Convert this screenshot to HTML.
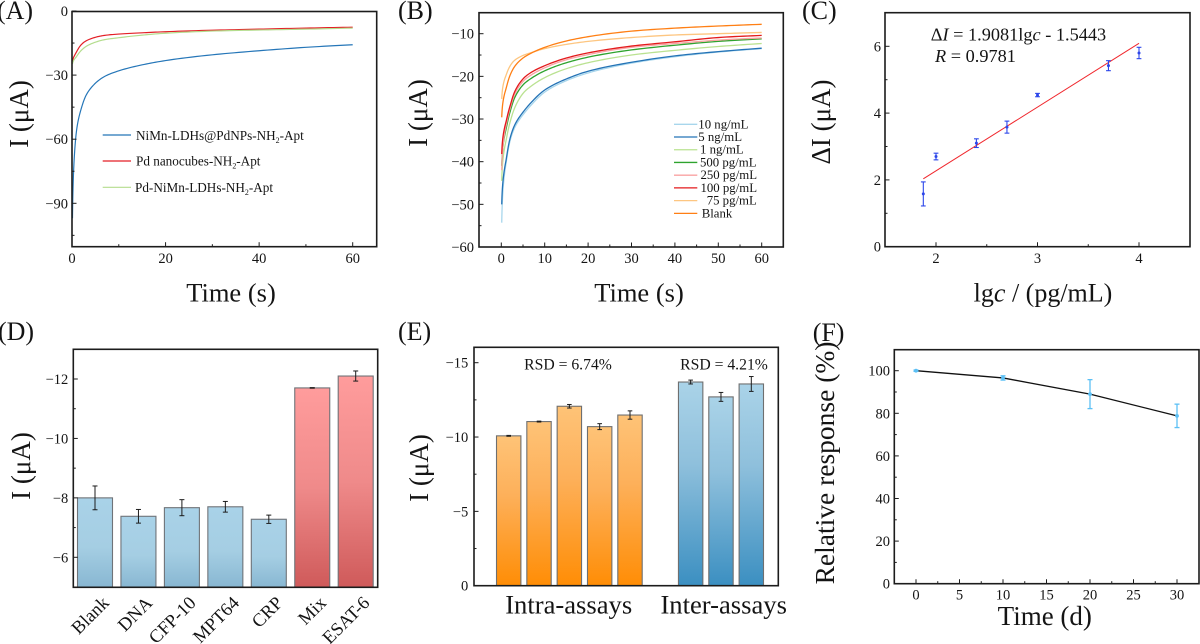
<!DOCTYPE html>
<html lang="en">
<head>
<meta charset="utf-8">
<title>Electrochemical aptasensor results</title>
<style>
  html, body { margin: 0; padding: 0; background: #fff; width: 1200px; height: 644px; overflow: hidden; }
  svg { display: block; filter: blur(0.35px); }
  text { font-family: "Liberation Serif", "DejaVu Serif", serif; fill: #141414; }
</style>
</head>
<body>
<svg id="figure" xmlns="http://www.w3.org/2000/svg" width="1200" height="644" viewBox="0 0 1200 644">
  <defs>
    <linearGradient id="grad-blue-d" x1="0" y1="0" x2="0" y2="1"><stop offset="0" stop-color="#a9d2e8"/><stop offset="0.55" stop-color="#a5cee3"/><stop offset="1" stop-color="#88b7d2"/></linearGradient>
    <linearGradient id="grad-red-d" x1="0" y1="0" x2="0" y2="1"><stop offset="0" stop-color="#ff9c9c"/><stop offset="0.5" stop-color="#ef8a8a"/><stop offset="1" stop-color="#cf5a5a"/></linearGradient>
    <linearGradient id="grad-orange-e" x1="0" y1="0" x2="0" y2="1"><stop offset="0" stop-color="#fec377"/><stop offset="0.4" stop-color="#fdb05a"/><stop offset="1" stop-color="#ff8d05"/></linearGradient>
    <linearGradient id="grad-blue-e" x1="0" y1="0" x2="0" y2="1"><stop offset="0" stop-color="#aad3e8"/><stop offset="0.4" stop-color="#8fc0dc"/><stop offset="1" stop-color="#3b8fc1"/></linearGradient>
  </defs>
</svg>
<script>
// ---------- Panel A data ----------
const timesA = [0.1, 0.5, 1, 2, 3, 5, 7, 10, 15, 20, 30, 40, 50, 60];
const seriesANames = ["NiMn-LDHs@PdNPs-NH2-Apt", "Pd nanocubes-NH2-Apt", "Pd-NiMn-LDHs-NH2-Apt"];
const seriesANiMn = [-97, -68, -55.5, -45.5, -39.5, -33.8, -30.6, -28, -25.2, -23.2, -20.5, -18.6, -17, -15.8];
const seriesAPd = [-23.7, -21, -19, -15.7, -14, -12.3, -11.4, -10.8, -10.2, -9.7, -9, -8.5, -8, -7.6];
const seriesAPdNiMn = [-24.8, -22.6, -21.2, -18.4, -16.6, -14.6, -13.4, -12.5, -11.3, -10.4, -9.4, -8.9, -8.5, -8];
const ticksAX = [0, 20, 40, 60];
const minorAX = [10, 30, 50];
const ticksAY = [0, -30, -60, -90];
const minorAY = [-15, -45, -75, -105];

// ---------- Panel B data ----------
const timesB = [0.1, 1, 2, 3, 5, 7, 10, 15, 20, 30, 40, 50, 60];
const legendB = ["10 ng/mL", "5 ng/mL", "1 ng/mL", "500 pg/mL", "250 pg/mL", "100 pg/mL", "75 pg/mL", "Blank"];
const seriesB10ng = [-54.3, -41, -35.2, -32.2, -29, -26.6, -23.7, -21, -19.2, -16.9, -15.4, -14.3, -13.5];
const seriesB5ng = [-50, -40.2, -34.6, -31.6, -28.4, -26, -23.2, -20.6, -18.8, -16.7, -15.2, -14.2, -13.4];
const seriesB1ng = [-44.5, -35.5, -30.8, -27.6, -24, -22.2, -20.3, -18.2, -16.8, -15, -13.9, -13, -12.3];
const seriesB500pg = [-41, -32.8, -28.4, -25.2, -22, -20.4, -18.7, -16.8, -15.5, -13.8, -12.7, -11.8, -11.2];
const seriesB250pg = [-42, -32, -27.6, -24.4, -21.2, -19.6, -18, -16.1, -14.9, -13.2, -12.3, -11.5, -11];
const seriesB100pg = [-38.2, -31, -27, -23.8, -20.6, -19, -17.5, -15.7, -14.5, -12.9, -11.9, -10.9, -10.4];
const seriesB75pg = [-25.3, -20, -17.6, -16.3, -15.1, -14.4, -13.5, -12.5, -11.8, -10.9, -10.3, -10, -9.7];
const seriesBBlank = [-29.6, -23.2, -19.8, -17.8, -15.7, -14.5, -13.2, -11.7, -10.7, -9.4, -8.7, -8.2, -7.8];
const ticksBX = [0, 10, 20, 30, 40, 50, 60];
const minorBX = [5, 15, 25, 35, 45, 55];
const ticksBY = [-10, -20, -30, -40, -50, -60];
const minorBY = [-15, -25, -35, -45, -55];

// ---------- Panel C data ----------
const lgcC = [1.875, 2, 2.398, 2.699, 3, 3.699, 4];
const deltaIC = [1.58, 2.7, 3.1, 3.58, 4.54, 5.42, 5.8];
const errorC = [0.36, 0.1, 0.13, 0.18, 0.05, 0.15, 0.17];
const fitC = [1.9081, -1.5443];
const ticksCX = [2, 3, 4];
const minorCX = [2.5, 3.5];
const ticksCY = [0, 2, 4, 6];
const minorCY = [1, 3, 5];

// ---------- Panel D data ----------
const categoriesD = ["Blank", "DNA", "CFP-10", "MPT64", "CRP", "Mix", "ESAT-6"];
const valuesD = [-8.0, -7.38, -7.67, -7.7, -7.28, -11.7, -12.1];
const errorD = [0.4, 0.23, 0.27, 0.18, 0.14, 0.01, 0.17];
const ticksDY = [-6, -8, -10, -12];
const minorDY = [-7, -9, -11];

// ---------- Panel E data ----------
const intraValuesE = [-10.08, -11.04, -12.07, -10.7, -11.48];
const intraErrorE = [0.03, 0.03, 0.12, 0.2, 0.28];
const interValuesE = [-13.7, -12.7, -13.57];
const interErrorE = [0.13, 0.3, 0.5];
const ticksEY = [0, -5, -10, -15];
const minorEY = [-2.5, -7.5, -12.5];

// ---------- Panel F data ----------
const daysF = [0, 10, 20, 30];
const responseF = [100, 96.6, 89, 78.8];
const errorF = [0.3, 1, 6.8, 5.5];
const ticksFX = [0, 5, 10, 15, 20, 25, 30];
const minorFX = [2.5, 7.5, 12.5, 17.5, 22.5, 27.5];
const ticksFY = [0, 20, 40, 60, 80, 100];
const minorFY = [10, 30, 50, 70, 90];

// ---------- Helpers ----------
const NS = "http://www.w3.org/2000/svg";
const root = document.getElementById("figure");

function node(tag, name, attrs, parent) {
  const el = document.createElementNS(NS, tag);
  
  
  for (const k in attrs) el.setAttribute(k, attrs[k]);
  (parent || root).appendChild(el);
  return el;
}
function label(name, str, x, y, size, anchor, parent, extra) {
  const el = node("text", name, Object.assign({ x: x, y: y, "font-size": size, "text-anchor": anchor || "middle" }, extra || {}), parent);
  el.textContent = str;
  return el;
}
function linear(d0, d1, r0, r1) {
  return function (v) { return r0 + (v - d0) * (r1 - r0) / (d1 - d0); };
}
function fmt(v) { return v < 0 ? "\u2212" + Math.abs(v) : String(v); }

// Smooth stroke: Hermite spline through the data in log-time, so the steep start stays round
function logTimePath(xs, ys, sx, sy) {
  const u = xs.map(function (t) { return Math.log(t); });
  const n = u.length, m = [];
  for (let i = 0; i < n; i++) {
    const a = Math.max(i - 1, 0), b = Math.min(i + 1, n - 1);
    m[i] = (ys[b] - ys[a]) / (u[b] - u[a]);
  }
  let d = "M" + sx(xs[0]).toFixed(2) + " " + sy(ys[0]).toFixed(2);
  for (let i = 0; i < n - 1; i++) {
    const h = u[i + 1] - u[i];
    for (let k = 1; k <= 10; k++) {
      const s = k / 10, s2 = s * s, s3 = s2 * s;
      const v = (2 * s3 - 3 * s2 + 1) * ys[i] + (s3 - 2 * s2 + s) * h * m[i] +
        (-2 * s3 + 3 * s2) * ys[i + 1] + (s3 - s2) * h * m[i + 1];
      d += "L" + sx(Math.exp(u[i] + s * h)).toFixed(2) + " " + sy(v).toFixed(2);
    }
  }
  return d;
}

function axes(g, box, sx, sy, o) {
  const axisColor = "#1c1c1c";
  (o.xTicks || []).forEach(function (v) {
    node("line", "x-major-tick", { x1: sx(v), x2: sx(v), y1: box.b, y2: box.b - 4.5, stroke: axisColor, "stroke-width": 1 }, g);
    label("x-tick-label", fmt(v), sx(v), o.xLabelY, 14.5, "middle", g);
  });
  (o.xMinor || []).forEach(function (v) {
    node("line", "x-minor-tick", { x1: sx(v), x2: sx(v), y1: box.b, y2: box.b - 2.5, stroke: axisColor, "stroke-width": 1 }, g);
  });
  (o.yTicks || []).forEach(function (v) {
    node("line", "y-major-tick", { x1: box.l, x2: box.l + 4.5, y1: sy(v), y2: sy(v), stroke: axisColor, "stroke-width": 1 }, g);
    label("y-tick-label", fmt(v), o.yLabelX, sy(v) + 5, 14.5, "end", g);
  });
  (o.yMinor || []).forEach(function (v) {
    node("line", "y-minor-tick", { x1: box.l, x2: box.l + 2.5, y1: sy(v), y2: sy(v), stroke: axisColor, "stroke-width": 1 }, g);
  });
}
function frame(g, box) {
  node("rect", "plot-frame", { x: box.l, y: box.t, width: box.r - box.l, height: box.b - box.t, fill: "none", stroke: "#1c1c1c", "stroke-width": 1.6 }, g);
}
function yTitle(g, str, x, cy, size) {
  return label("y-axis-title", str, 0, 0, size || 27, "middle", g, { transform: "translate(" + x + " " + cy + ") rotate(-90)" });
}
function curve(g, name, xs, ys, sx, sy, color, w) {
  node("path", name, { d: logTimePath(xs, ys, sx, sy), fill: "none", stroke: color, "stroke-width": w || 1.3, "stroke-linejoin": "round" }, g);
}
function errorBar(g, name, x, yTop, yBottom, cap, color, w) {
  node("line", name + "-stem", { x1: x, x2: x, y1: yTop, y2: yBottom, stroke: color, "stroke-width": w }, g);
  node("line", name + "-cap-top", { x1: x - cap, x2: x + cap, y1: yTop, y2: yTop, stroke: color, "stroke-width": w }, g);
  node("line", name + "-cap-bottom", { x1: x - cap, x2: x + cap, y1: yBottom, y2: yBottom, stroke: color, "stroke-width": w }, g);
}
function subscriptLabel(g, name, str, x, y, size) {
  const el = node("text", name, { x: x, y: y, "font-size": size }, g);
  const idx = str.indexOf("NH2");
  const a = document.createElementNS(NS, "tspan");
  a.textContent = str.slice(0, idx + 2);
  const b = document.createElementNS(NS, "tspan");
  b.setAttribute("font-size", size * 0.6);
  b.setAttribute("dy", 3);
  b.textContent = "2";
  const c = document.createElementNS(NS, "tspan");
  c.setAttribute("dy", -3);
  c.textContent = str.slice(idx + 3);
  el.appendChild(a); el.appendChild(b); el.appendChild(c);
  return el;
}

// ---------- Panel A ----------
(function () {
  const g = node("g", "panel-a", {});
  const box = { l: 72, r: 376.7, t: 11.5, b: 246.7 };
  const sx = linear(0, 60, 72, 352.7);
  const sy = linear(0, -90, 11, 203.3);
  label("panel-label-a", "(A)", -3, 19, 26, "start", g);
  const colors = ["#2576b8", "#e31f26", "#b4dd8e"];
  [seriesANiMn, seriesAPd, seriesAPdNiMn].forEach(function (s, i) {
    curve(g, "curve-" + ["nimn-ldhs-pdnps", "pd-nanocubes", "pd-nimn-ldhs"][i], timesA, s, sx, sy, colors[i], 1.2);
  });
  axes(g, box, sx, sy, { xTicks: ticksAX, xMinor: minorAX, yTicks: ticksAY, yMinor: minorAY, xLabelY: 263, yLabelX: 68 });
  frame(g, box);
  yTitle(g, "I (\u03bcA)", 28, 114);
  label("x-axis-title", "Time (s)", 231, 301.7, 26.5, "middle", g);
  const ly = [135, 161, 187.3];
  const lt = [140, 165.5, 192];
  const lx = [136, 136, 135];
  seriesANames.forEach(function (n, i) {
    node("line", "legend-swatch", { x1: 102.7, x2: 131, y1: ly[i], y2: ly[i], stroke: colors[i], "stroke-width": 1.2 }, g);
    subscriptLabel(g, "legend-entry", n, lx[i], lt[i], 13.2);
  });
})();

// ---------- Panel B ----------
(function () {
  const g = node("g", "panel-b", {});
  const box = { l: 479, r: 783.3, t: 12.7, b: 247 };
  const sx = linear(0, 60, 501.3, 761.7);
  const sy = linear(-10, -60, 33.7, 247);
  label("panel-label-b", "(B)", 398, 19, 26, "start", g);
  const colors = ["#a8d6ec", "#2473b6", "#bae291", "#2ea32e", "#f9a3a3", "#e31a1c", "#fdc681", "#ff7f14"];
  [seriesB10ng, seriesB5ng, seriesB1ng, seriesB500pg, seriesB250pg, seriesB100pg, seriesB75pg, seriesBBlank].forEach(function (s, i) {
    curve(g, "curve-" + legendB[i].toLowerCase().replace(/[ \/]/g, "-"), timesB, s, sx, sy, colors[i], 1.3);
  });
  axes(g, box, sx, sy, { xTicks: ticksBX, xMinor: minorBX, yTicks: ticksBY, yMinor: minorBY, xLabelY: 263, yLabelX: 474 });
  frame(g, box);
  yTitle(g, "I (\u03bcA)", 427, 113);
  label("x-axis-title", "Time (s)", 639, 301.7, 26.5, "middle", g);
  const lx = [698.3, 698.3, 700, 700, 700.5, 700.5, 706.7, 701.7];
  legendB.forEach(function (n, i) {
    const y = 124.3 + i * 12.72;
    node("line", "legend-swatch", { x1: 674, x2: 697.3, y1: y, y2: y, stroke: colors[i], "stroke-width": 1.3 }, g);
    label("legend-entry", n, lx[i], y + 4, 12.8, "start", g);
  });
})();

// ---------- Panel C ----------
(function () {
  const g = node("g", "panel-c", {});
  const box = { l: 885, r: 1190, t: 12.7, b: 246.7 };
  const sx = linear(2, 4, 936, 1139);
  const sy = linear(0, 6, 246.7, 46.3);
  label("panel-label-c", "(C)", 802, 19, 26, "start", g);
  const xa = lgcC[0], xb = lgcC[lgcC.length - 1];
  node("line", "fit-line", { x1: sx(xa), y1: sy(fitC[0] * xa + fitC[1]), x2: sx(xb), y2: sy(fitC[0] * xb + fitC[1]), stroke: "#f0262c", "stroke-width": 1 }, g);
  lgcC.forEach(function (v, i) {
    errorBar(g, "error-bar", sx(v), sy(deltaIC[i] + errorC[i]), sy(deltaIC[i] - errorC[i]), 2.4, "#2c46ea", 1.1);
    node("circle", "data-point", { cx: sx(v), cy: sy(deltaIC[i]), r: 1.5, fill: "#2c46ea" }, g);
  });
  axes(g, box, sx, sy, { xTicks: ticksCX, xMinor: minorCX, yTicks: ticksCY, yMinor: minorCY, xLabelY: 263, yLabelX: 881 });
  frame(g, box);
  yTitle(g, "\u0394I (\u03bcA)", 830, 122);
  const xt = label("x-axis-title", "", 1043, 301.7, 26, "middle", g);
  xt.innerHTML = 'lg<tspan font-style="italic">c</tspan> / (pg/mL)';
  const eq = label("fit-equation", "", 930.7, 40.7, 18.3, "start", g);
  eq.innerHTML = '\u0394<tspan font-style="italic">I</tspan> = 1.9081lg<tspan font-style="italic">c</tspan> - 1.5443';
  const rv = label("correlation-value", "", 935, 62, 18.3, "start", g);
  rv.innerHTML = '<tspan font-style="italic">R</tspan> = 0.9781';
})();

// ---------- Panel D ----------
(function () {
  const g = node("g", "panel-d", {});
  const box = { l: 73.3, r: 377.7, t: 349.3, b: 587.3 };
  const sx = linear(0, 6, 95, 355.7);
  const sy = linear(-6, -12, 557.3, 379);
  label("panel-label-d", "(D)", -2, 340, 26, "start", g);
  valuesD.forEach(function (v, i) {
    const x = sx(i);
    const fill = i >= 5 ? "url(#grad-red-d)" : "url(#grad-blue-d)";
    node("rect", "bar-" + categoriesD[i].toLowerCase(), { x: x - 17.5, y: sy(v), width: 35, height: box.b - sy(v), fill: fill, stroke: "#6f7378", "stroke-width": 1.1 }, g);
    errorBar(g, "error-bar", x, sy(v - errorD[i]), sy(v + errorD[i]), 2.5, "#1c1c1c", 1);
    label("x-category-label", categoriesD[i], 0, 0, 18.5, "end", g, { transform: "translate(" + (x + 15) + " 604) rotate(-45)" });
  });
  axes(g, box, sx, sy, { yTicks: ticksDY, yMinor: minorDY, yLabelX: 68.3 });
  frame(g, box);
  yTitle(g, "I (\u03bcA)", 30, 466);
})();

// ---------- Panel E ----------
(function () {
  const g = node("g", "panel-e", {});
  const box = { l: 474, r: 778.3, t: 347.3, b: 585.7 };
  const sx = linear(1, 9, 508.7, 751.3);
  const sy = linear(0, -15, 585.7, 362.7);
  label("panel-label-e", "(E)", 398, 340, 26, "start", g);
  function bars(vals, errs, start, fill, nm) {
    vals.forEach(function (v, i) {
      const x = sx(start + i);
      node("rect", nm + "-bar-" + (i + 1), { x: x - 12.2, y: sy(v), width: 24.4, height: box.b - sy(v), fill: fill, stroke: "#6f6f6f", "stroke-width": 1.1 }, g);
      errorBar(g, "error-bar", x, sy(v - errs[i]), sy(v + errs[i]), 2.3, "#1c1c1c", 1);
    });
  }
  bars(intraValuesE, intraErrorE, 1, "url(#grad-orange-e)", "intra-assay");
  bars(interValuesE, interErrorE, 7, "url(#grad-blue-e)", "inter-assay");
  axes(g, box, sx, sy, { yTicks: ticksEY, yMinor: minorEY, yLabelX: 468.3 });
  frame(g, box);
  yTitle(g, "I (\u03bcA)", 428, 468);
  label("rsd-intra-label", "RSD = 6.74%", 568, 369.7, 15.7, "middle", g);
  label("rsd-inter-label", "RSD = 4.21%", 724, 369.7, 15.7, "middle", g);
  label("x-group-label-intra", "Intra-assays", 568.7, 613.7, 26.6, "middle", g);
  label("x-group-label-inter", "Inter-assays", 723.7, 613.7, 26.6, "middle", g);
})();

// ---------- Panel F ----------
(function () {
  const g = node("g", "panel-f", {});
  const box = { l: 894.3, r: 1199, t: 349.7, b: 583.7 };
  const sx = linear(0, 30, 916, 1177);
  const sy = linear(0, 100, 583.7, 370.7);
  label("panel-label-f", "(F)", 812.7, 341, 26, "start", g);
  const linePts = daysF.map(function (d, i) { return sx(d).toFixed(2) + "," + sy(responseF[i]).toFixed(2); }).join(" ");
  node("polyline", "response-line", { points: linePts, fill: "none", stroke: "#111", "stroke-width": 1.3, "stroke-linejoin": "round" }, g);
  daysF.forEach(function (d, i) {
    errorBar(g, "error-bar", sx(d), sy(responseF[i] + errorF[i]), sy(responseF[i] - errorF[i]), 2.5, "#5cc0f5", 1.3);
    node("circle", "data-point", { cx: sx(d), cy: sy(responseF[i]), r: 1.9, fill: "#5cc0f5" }, g);
  });
  axes(g, box, sx, sy, { xTicks: ticksFX, xMinor: minorFX, yTicks: ticksFY, yMinor: minorFY, xLabelY: 599.7, yLabelX: 890 });
  frame(g, box);
  yTitle(g, "Relative response (%)", 834, 463, 27.5);
  label("x-axis-title", "Time (d)", 1044.8, 625, 27, "middle", g);
})();
</script>
</body>
</html>
